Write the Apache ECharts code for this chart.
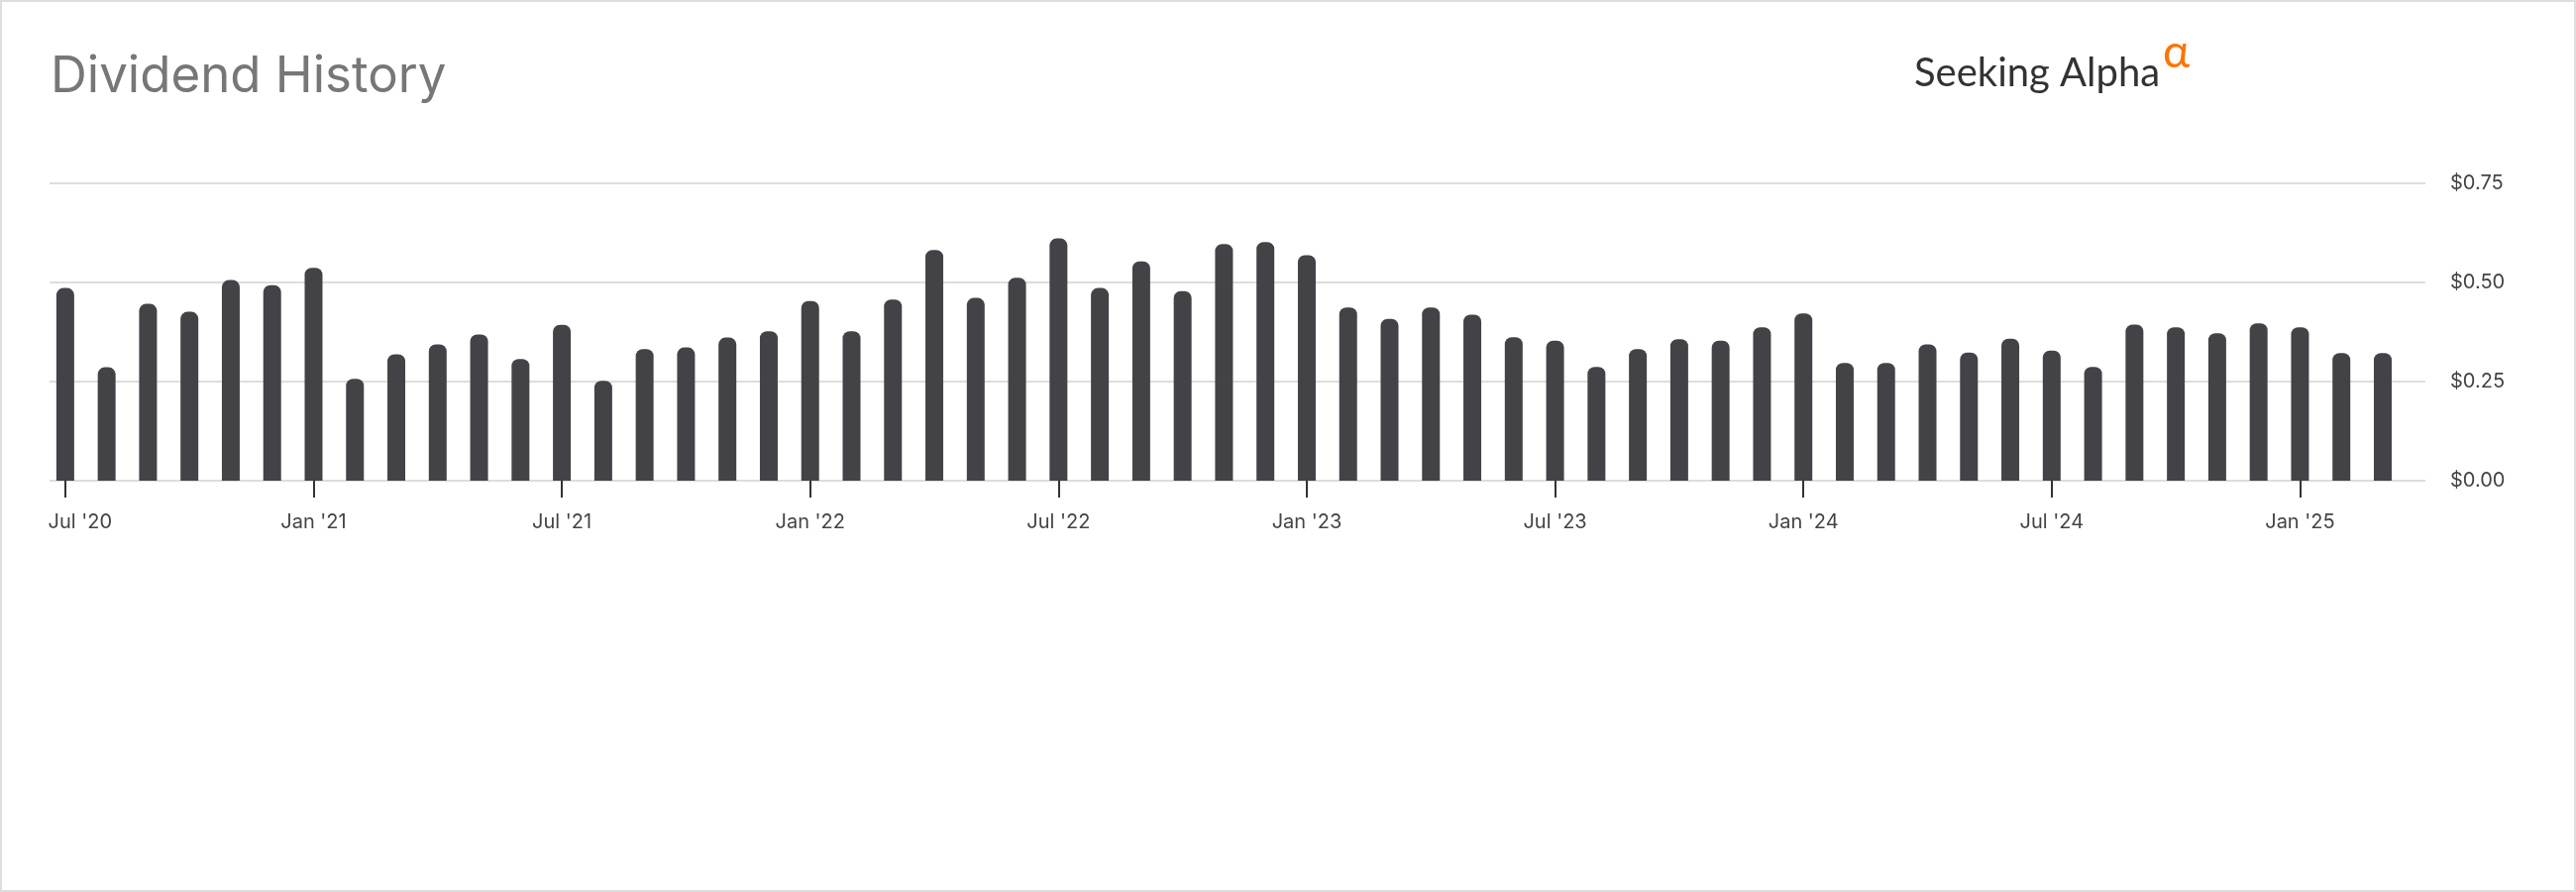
<!DOCTYPE html>
<html>
<head>
<meta charset="utf-8">
<script src="https://cdn.jsdelivr.net/npm/echarts@6/dist/echarts.min.js"></script>
<style>
  html, body { margin: 0; padding: 0; background: #fff; }
  #main { width: 2600px; height: 900px; }
</style>
</head>
<body>
<div id="main"></div>
<script>
// monthly dividends, Jul 2020 .. Mar 2025
const months = [
  "Jul '20","Aug '20","Sep '20","Oct '20","Nov '20","Dec '20",
  "Jan '21","Feb '21","Mar '21","Apr '21","May '21","Jun '21",
  "Jul '21","Aug '21","Sep '21","Oct '21","Nov '21","Dec '21",
  "Jan '22","Feb '22","Mar '22","Apr '22","May '22","Jun '22",
  "Jul '22","Aug '22","Sep '22","Oct '22","Nov '22","Dec '22",
  "Jan '23","Feb '23","Mar '23","Apr '23","May '23","Jun '23",
  "Jul '23","Aug '23","Sep '23","Oct '23","Nov '23","Dec '23",
  "Jan '24","Feb '24","Mar '24","Apr '24","May '24","Jun '24",
  "Jul '24","Aug '24","Sep '24","Oct '24","Nov '24","Dec '24",
  "Jan '25","Feb '25","Mar '25"
];
const dividends = [
  0.486, 0.286, 0.446, 0.426, 0.506, 0.493,
  0.537, 0.257, 0.319, 0.344, 0.369, 0.307,
  0.393, 0.252, 0.332, 0.336, 0.361, 0.377,
  0.453, 0.377, 0.457, 0.582, 0.461, 0.512,
  0.611, 0.486, 0.553, 0.478, 0.597, 0.602,
  0.569, 0.437, 0.408, 0.437, 0.419, 0.362,
  0.353, 0.287, 0.332, 0.357, 0.353, 0.387,
  0.422, 0.297, 0.297, 0.344, 0.323, 0.358,
  0.328, 0.287, 0.394, 0.387, 0.372, 0.397,
  0.387, 0.322, 0.322
];
// x ticks every six months (index into months)
const tickIdx = [0, 6, 12, 18, 24, 30, 36, 42, 48, 54];

const chart = echarts.init(document.getElementById('main'));

const option = {
  backgroundColor: '#ffffff',
  animation: false,
  grid: { left: 50, right: 152, top: 185, bottom: 415 },
  graphic: [
    {
      type: 'rect', silent: true,
      shape: { x: 1, y: 1, width: 2598, height: 898 },
      style: { fill: 'none', stroke: '#dddddd', lineWidth: 2 }
    },
    {
      type: 'text', left: 51, top: 52,
      style: { text: 'Dividend History', font: '51px Inter', fill: '#777777' }
    },
    {
      type: 'text', left: 1932, top: 54,
      style: { text: 'Seeking Alpha', font: '40px Lato', fill: '#333333' }
    },
    {
      type: 'text', left: 2183, top: 30,
      style: { text: 'α', font: '46px Lato', fill: '#ff7300' }
    }
  ],
  xAxis: {
    type: 'value',
    min: -0.38,
    max: 57.03,
    splitLine: { show: false },
    axisLine: { show: false },
    axisTick: {
      show: true,
      customValues: tickIdx,
      length: 17,
      lineStyle: { color: '#333333', width: 2 }
    },
    axisLabel: {
      customValues: tickIdx,
      margin: 32,
      fontFamily: 'Inter',
      fontSize: 20,
      color: '#444444',
      formatter: function (v) {
        const s = months[Math.round(v)];
        return v === 0 ? '{first|' + s + '}' : s;
      },
      rich: {
        first: { fontFamily: 'Inter', fontSize: 20, color: '#444444', padding: [0, 0, 0, 30] }
      }
    }
  },
  yAxis: {
    type: 'value',
    position: 'right',
    min: 0,
    max: 0.75,
    interval: 0.25,
    axisLine: { show: false },
    axisTick: { show: false },
    splitLine: { lineStyle: { color: '#dddddd', width: 2 } },
    axisLabel: {
      margin: 25,
      fontFamily: 'Inter',
      fontSize: 20,
      color: '#444444',
      formatter: function (v) { return '$' + v.toFixed(2); }
    }
  },
  series: [
    {
      type: 'bar',
      barWidth: 18,
      itemStyle: { color: '#434347', borderRadius: [7, 7, 0, 0] },
      data: dividends.map(function (v, i) { return [i, v]; })
    }
  ]
};

chart.setOption(option);
</script>
</body>
</html>
